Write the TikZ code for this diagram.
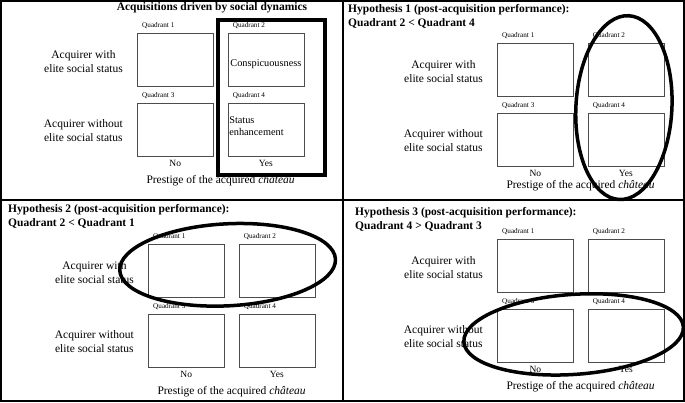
\documentclass[tikz,border=0pt]{standalone}
\usepackage{fontspec}
\setmainfont{Liberation Serif}
\usetikzlibrary{positioning,calc}

\begin{document}
\begin{tikzpicture}[x=1pt,y=-1pt,
    quad/.style={draw=black!70,line width=0.6pt,minimum width=76pt,minimum height=53pt,inner sep=0pt},
    quadname/.style={font=\fontsize{7.2}{8}\selectfont,inner sep=0pt},
    rowname/.style={font=\fontsize{11.5}{14}\selectfont,align=center,inner sep=0pt},
    axisname/.style={font=\fontsize{9.5}{11}\selectfont,inner sep=0pt},
    boxtext/.style={font=\fontsize{10.3}{12}\selectfont,inner sep=0pt},
    heading/.style={font=\fontsize{11.5}{14.5}\selectfont\bfseries,align=left,anchor=north west,inner sep=0pt},
    ring/.style={line width=3.5pt},
    panelline/.style={line width=1.1pt}]
    \useasboundingbox (0,0) rectangle (685,402);

    % panel frames
    \draw[panelline] (1,1) rectangle (684,401);
    \draw[panelline] (343,1) -- (343,401);
    \draw[panelline] (1,200) -- (684,200);

    % the same 2x2 grid in each panel
    \foreach \p/\sx/\sy/\gap in {p1/137/33/8, p2/497/43/3, p3/148/244/8, p4/497/239/8} {
      \begin{scope}[shift={(\sx,\sy)},name prefix=\p-]
        \node[quad,anchor=north west] (q1) at (0,0) {};
        \node[quad,right=14pt of q1] (q2) {};
        \node[quad,below=16pt of q1] (q3) {};
        \node[quad,right=14pt of q3] (q4) {};
        \node[quadname,above right=4pt and 5pt of q1.north west] (n1) {Quadrant 1};
        \node[quadname,above right=4pt and 5pt of q2.north west] (n2) {Quadrant 2};
        \node[quadname,above right=4pt and 5pt of q3.north west] (n3) {Quadrant 3};
        \node[quadname,above right=4pt and 5pt of q4.north west] (n4) {Quadrant 4};
        \node[rowname,left=14pt of q1,yshift=-1.5pt] (elite) {Acquirer with\\elite social status};
        \node[rowname,left=14pt of q3,yshift=-1.5pt] (nonelite) {Acquirer without\\elite social status};
        \node[axisname,below=4pt of q3] (no) {No};
        \node[axisname,below=4pt of q4] (yes) {Yes};
        \node[rowname,anchor=north,yshift=-\gap pt] (axis) at ($(no.south)!0.5!(yes.south)$) {Prestige of the acquired \textit{château}};
      \end{scope}
    }

    % panel 1
    \node[font=\fontsize{11.5}{14}\selectfont\bfseries,inner sep=0pt] (title1) at (212,7.5) {Acquisitions driven by social dynamics};
    \node[boxtext] (consp) at ([yshift=-4.5pt]p1-q2.center) {Conspicuousness};
    \node[boxtext,align=left,anchor=west] (status) at ([xshift=1.5pt,yshift=3pt]p1-q4.west) {Status\\enhancement};
    \draw[line width=4.5pt] ([xshift=-9.5pt,yshift=13pt]p1-q2.north west) rectangle ([xshift=21pt,yshift=-19pt]p1-q4.south east);

    % panel 2
    \node[heading] (title2) at (348,4) {Hypothesis 1 (post-acquisition performance):\\Quadrant 2 < Quadrant 4};
    \draw[ring] ($(p2-q2.north)!0.5!(p2-q4.south)+(-2,3)$) ellipse [x radius=48pt,y radius=92pt,rotate=-3];

    % panel 3
    \node[heading] (title3) at (8,204) {Hypothesis 2 (post-acquisition performance):\\Quadrant 2 < Quadrant 1};
    \draw[ring] ($(p3-q1.center)!0.5!(p3-q2.center)+(-4,-6)$) ellipse [x radius=108pt,y radius=41pt,rotate=3];

    % panel 4
    \node[heading] (title4) at (355,207) {Hypothesis 3 (post-acquisition performance):\\Quadrant 4 > Quadrant 3};
    \draw[ring] ($(p4-q3.center)!0.5!(p4-q4.center)+(-7,-1)$) ellipse [x radius=110pt,y radius=40pt,rotate=4];
\end{tikzpicture}
\end{document}
